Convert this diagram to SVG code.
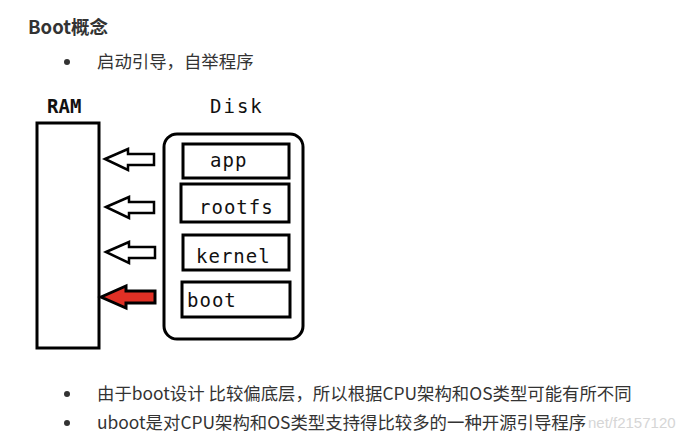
<svg xmlns="http://www.w3.org/2000/svg" width="685" height="441" viewBox="0 0 685 441">
<style>
.t{font-family:"Noto Sans CJK SC","Noto Sans",sans-serif;font-size:17.4px;fill:#333}
.m{font-family:"DejaVu Sans Mono","Liberation Mono",monospace;font-size:19px;fill:#111}
.b{fill:none;stroke:#000;stroke-width:3}
.a{fill:#fff;stroke:#000;stroke-width:2.5;stroke-linejoin:miter}
</style>
<rect width="685" height="441" fill="#fff"/>
<text x="28" y="34" style="font-family:'Noto Sans CJK SC',sans-serif;font-size:18.5px;font-weight:bold;fill:#333">Boot概念</text>
<circle cx="67" cy="62" r="3" fill="#333"/>
<text class="t" x="97" y="68">启动引导，自举程序</text>
<g id="ram"><text class="m" x="47" y="113" style="font-weight:bold">RAM</text><rect class="b" x="37" y="123" width="62" height="225"/></g>
<g id="disk"><text class="m" x="210" y="113" letter-spacing="2">Disk</text><rect class="b" x="164" y="134" width="139" height="205" rx="13"/></g>
<g id="app"><rect class="b" x="183" y="144" width="106" height="34"/><text class="m" x="210" y="167" letter-spacing="1">app</text></g>
<g id="rootfs"><rect class="b" x="181" y="184" width="108" height="38"/><text class="m" x="199" y="214" letter-spacing="1">rootfs</text></g>
<g id="kernel"><rect class="b" x="183" y="235" width="106" height="35"/><text class="m" x="196" y="263" letter-spacing="1">kernel</text></g>
<g id="boot"><rect class="b" x="182" y="282" width="108" height="35"/><text class="m" x="187" y="307" letter-spacing="1">boot</text></g>
<g id="connectors">
<path class="a" d="M105,159 L128,149 L128,154 L154,154 L154,165 L128,165 L128,170 Z"/>
<path class="a" d="M106,207 L129,197 L129,202 L154,202 L154,213 L129,213 L129,218 Z"/>
<path class="a" d="M106,252 L129,242 L129,247 L155,247 L155,258 L129,258 L129,263 Z"/>
<path d="M101,297 L126,286 L126,291 L155,291 L155,303 L126,303 L126,308 Z" fill="#e03025" stroke="#000" stroke-width="3"/>
</g>
<circle cx="67" cy="394" r="3" fill="#333"/>
<text class="t" x="97" y="400">由于boot设计 比较偏底层，所以根据CPU架构和OS类型可能有所不同</text>
<circle cx="67" cy="423" r="3" fill="#333"/>
<text class="t" x="97" y="429">uboot是对CPU架构和OS类型支持得比较多的一种开源引导程序</text>
<text x="588" y="428" style="font-family:'Liberation Sans',sans-serif;font-size:15px;fill:#ccc;opacity:0.8">net/f2157120</text>
</svg>
